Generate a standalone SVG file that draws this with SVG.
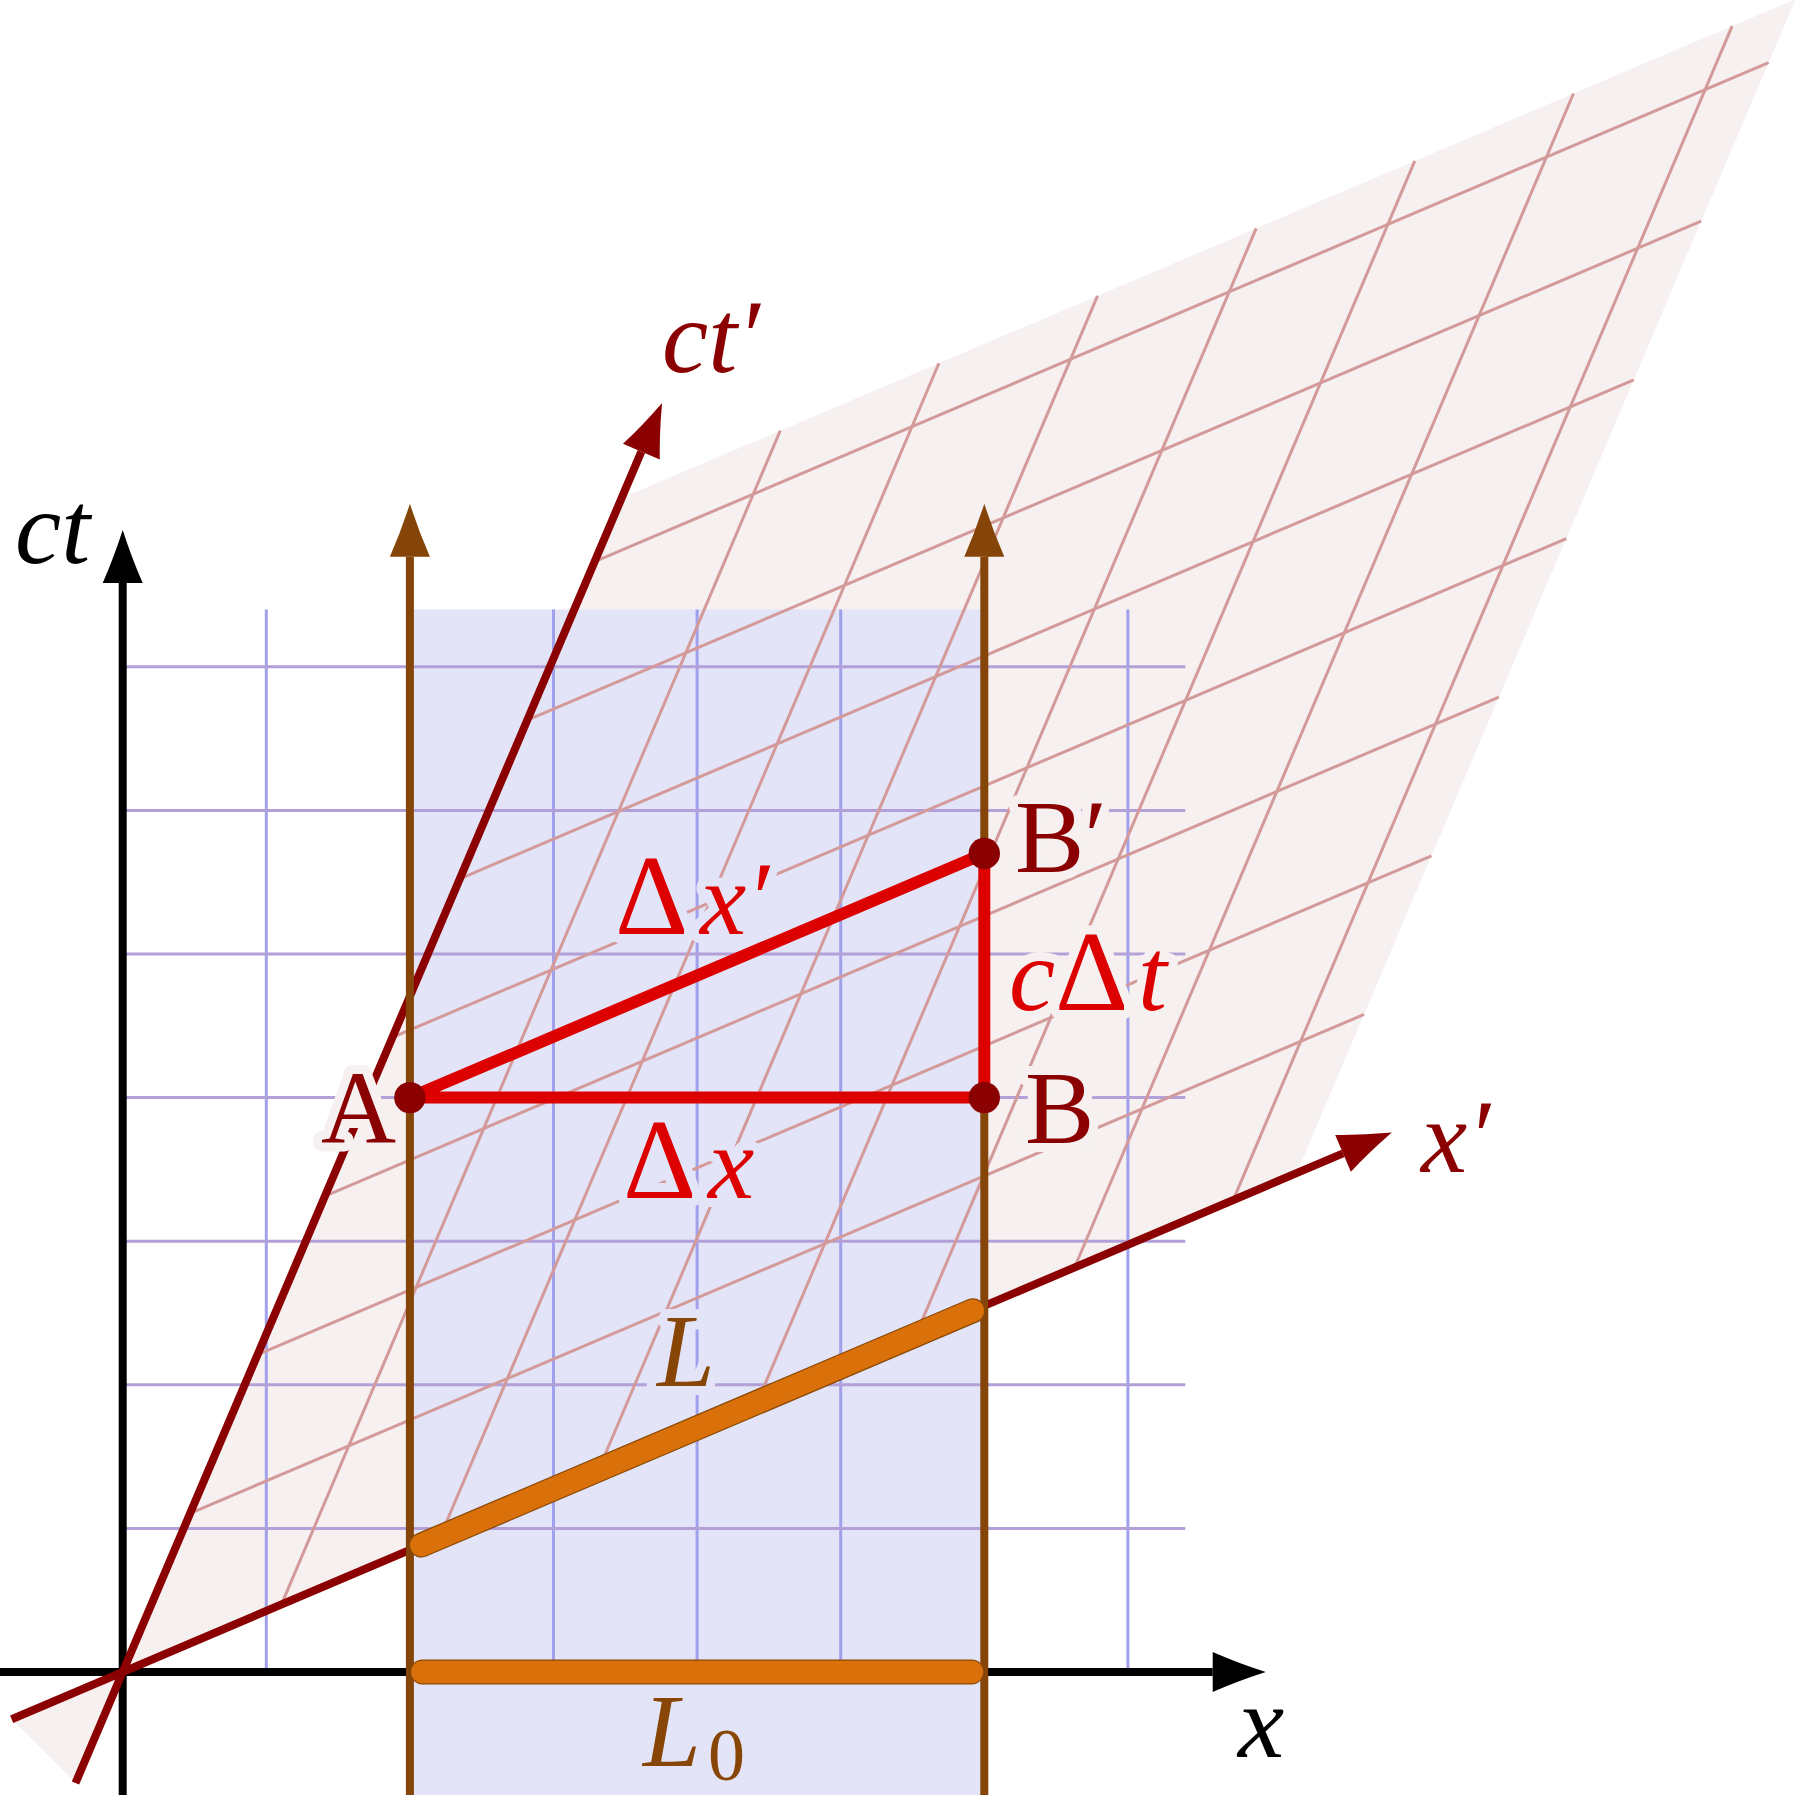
<svg xmlns="http://www.w3.org/2000/svg" width="1795" height="1795" viewBox="0 0 1795 1795">
<defs>
<style>
.gv{stroke:#a0a0ec;stroke-width:3;fill:none}
.gh{stroke:#b4a0d8;stroke-width:3;fill:none}
.gp{stroke:#d49a9a;stroke-width:3;fill:none}
.ax{stroke:#000;stroke-width:8;fill:none}
.axp{stroke:#8b0000;stroke-width:8;fill:none}
.wl{stroke:#854508;stroke-width:8;fill:none}
.rod-o{stroke:#8a4a06;stroke-width:25;stroke-linecap:round;fill:none}
.rod-i{stroke:#d9700a;stroke-width:22.5;stroke-linecap:round;fill:none}
.tri{stroke:#dd0000;stroke-width:12;fill:none}
.pt{fill:#8b0000}
text{font-family:"Liberation Serif","Times New Roman",serif;font-size:104px;paint-order:stroke fill;stroke-width:18px;stroke-linejoin:round}
.it{font-style:italic}
.hp{stroke:#f6f0f0}
.hb{stroke:#e3e4f7}
.hw{stroke:#ffffff}
</style>
<marker id="ah-k" markerUnits="userSpaceOnUse" orient="auto" markerWidth="60" markerHeight="50" viewBox="0 -25 60 50" refX="0" refY="0" overflow="visible">
<path d="M53,0 Q25,9 0,20 L0,-20 Q25,-9 53,0 Z" fill="#000"/>
</marker>
<marker id="ah-r" markerUnits="userSpaceOnUse" orient="auto" markerWidth="60" markerHeight="50" viewBox="0 -25 60 50" refX="0" refY="0" overflow="visible">
<path d="M53,0 Q25,9 0,20 L0,-20 Q25,-9 53,0 Z" fill="#8b0000"/>
</marker>
<marker id="ah-b" markerUnits="userSpaceOnUse" orient="auto" markerWidth="60" markerHeight="50" viewBox="0 -25 60 50" refX="0" refY="0" overflow="visible">
<path d="M53,0 Q25,9 0,20 L0,-20 Q25,-9 53,0 Z" fill="#854508"/>
</marker>
</defs>
<rect width="1795" height="1795" fill="#ffffff"/>
<g id="primed-shade">
<polygon points="11.65,1719.2 75.5,1783.05 621.62,498.06 1795.56,-0.86 1296.64,1173.08" fill="#f6f0f0"/>
</g>
<g id="rest-frame-rod-region">
<rect x="409.9" y="609.4" width="574.4" height="1185.6" fill="#e3e4f7"/>
</g>
<g id="grid-world">
<path class="gv" d="M266.3,1672V609.4M409.9,1672V609.4M553.5,1672V609.4M697.1,1672V609.4M840.7,1672V609.4M984.3,1672V609.4M1127.9,1672V609.4"/>
<path class="gh" d="M122.7,1528.4H1185.3M122.7,1384.8H1185.3M122.7,1241.2H1185.3M122.7,1097.6H1185.3M122.7,954H1185.3M122.7,810.4H1185.3M122.7,666.8H1185.3"/>
</g>
<g id="grid-primed">
<path class="gp" d="M281.34,1604.58L780.26,430.64M439.98,1537.16L938.9,363.22M598.62,1469.73L1097.54,295.79M757.26,1402.31L1256.18,228.37M915.9,1334.89L1414.82,160.95M1074.54,1267.47L1573.46,93.53M1233.18,1200.05L1732.1,26.11"/>
<path class="gp" d="M190.12,1513.36L1364.06,1014.44M257.54,1354.72L1431.48,855.8M324.97,1196.08L1498.91,697.16M392.39,1037.44L1566.33,538.52M459.81,878.8L1633.75,379.88M527.23,720.16L1701.17,221.24M594.65,561.52L1768.59,62.6"/>
</g>
<g id="connectors">
<path class="ax" d="M0,1672H1212.7" marker-end="url(#ah-k)"/>
<path class="ax" d="M122.7,1795V583" marker-end="url(#ah-k)"/>
<path class="axp" d="M11.65,1719.2L1343.04,1153.35" marker-end="url(#ah-r)"/>
<path class="axp" d="M75.5,1783.05L641.35,451.66" marker-end="url(#ah-r)"/>
<path class="wl" d="M409.9,1795V556.7" marker-end="url(#ah-b)"/>
<path class="wl" d="M984.3,1795V556.7" marker-end="url(#ah-b)"/>
</g>
<g id="rod-L0">
<path class="rod-o" d="M422.4,1672H971.8"/>
<path class="rod-i" d="M422.4,1672H971.8"/>
</g>
<g id="rod-L">
<path class="rod-o" d="M421.4,1545.05L972.8,1310.71"/>
<path class="rod-i" d="M421.4,1545.05L972.8,1310.71"/>
</g>
<g id="triangle">
<path class="tri" d="M409.9,1097.6H984.3M984.3,1097.6V853.48M409.9,1097.6L984.3,853.48"/>
</g>
<g id="point-A"><circle class="pt" cx="409.9" cy="1097.6" r="15.7"/></g>
<g id="point-B"><circle class="pt" cx="984.3" cy="1097.6" r="15.7"/></g>
<g id="point-Bp"><circle class="pt" cx="984.3" cy="853.48" r="15.7"/></g>
<g id="labels">
<text id="lbl-ct" class="it hw" x="15" y="563" fill="#000000">ct</text>
<text id="lbl-ctp" class="it hw" x="662" y="372" fill="#8b0000">ct′</text>
<text id="lbl-xp" class="it hw" x="1421" y="1172" fill="#8b0000">x′</text>
<text id="lbl-x" class="it hw" x="1238" y="1757" fill="#000000">x</text>
<text id="lbl-A" class="hp" x="321" y="1143" fill="#8b0000">A</text>
<text id="lbl-B" class="hp" x="1025" y="1143" fill="#8b0000">B</text>
<text id="lbl-Bp" class="hp" x="1015" y="872" fill="#8b0000">B′</text>
<text id="lbl-cdt" class="hp" x="1009" y="1010" fill="#dd0000"><tspan class="it">c</tspan><tspan x="1055" font-size="114">Δ</tspan><tspan class="it" x="1138">t</tspan></text>
<text id="lbl-dxp" class="hb" x="615" y="934" fill="#dd0000"><tspan font-size="114">Δ</tspan><tspan class="it" x="700">x′</tspan></text>
<text id="lbl-dx" class="hb" x="623" y="1198" fill="#dd0000"><tspan font-size="114">Δ</tspan><tspan class="it" x="708">x</tspan></text>
<text id="lbl-L" class="it hb" x="657" y="1386" fill="#884606">L</text>
<text id="lbl-L0" class="hb" x="643" y="1766" fill="#884606" style="stroke-width:10px"><tspan class="it">L</tspan><tspan x="708" font-size="74" y="1780">0</tspan></text>
</g>
</svg>
